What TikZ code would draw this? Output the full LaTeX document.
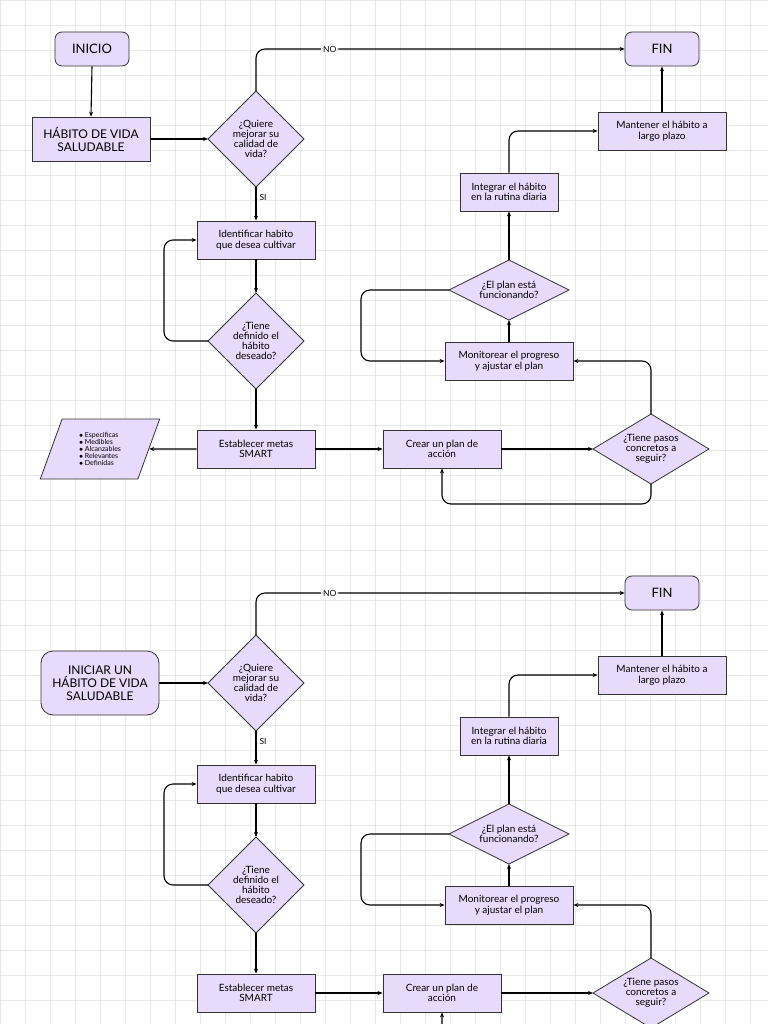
\documentclass[tikz,border=0pt]{standalone}
\usepackage{fontspec}
\setmainfont{Lato}
\usetikzlibrary{arrows.meta,shapes.geometric}
\definecolor{lav}{HTML}{E8DAFB}
\tikzset{
 box/.style={draw=black!80,fill=lav,line width=0.8pt,align=center,font=\fontsize{10}{10.5}\selectfont,inner sep=1pt},
 term/.style={box,rounded corners=7pt,font=\fontsize{13}{14}\selectfont},
 dia/.style={draw=black!80,fill=lav,line width=0.8pt},
 dtext/.style={align=center,font=\fontsize{10}{9.8}\selectfont,inner sep=0pt},
 arr/.style={line width=1.1pt,-{Stealth[length=5pt,width=4pt]},rounded corners=9pt},
 lbl/.style={fill=white,font=\fontsize{8.5}{8.5}\selectfont,inner sep=2pt}
}
\newcommand{\mydia}[5]{% name, x, y, halfw, halfh
 \draw[dia] (#2-#4,#3) -- (#2,#3-#5) -- (#2+#4,#3) -- (#2,#3+#5) -- cycle;
 \coordinate (#1l) at (#2-#4,#3); \coordinate (#1r) at (#2+#4,#3);
 \coordinate (#1t) at (#2,#3-#5); \coordinate (#1b) at (#2,#3+#5);}
\newcommand{\chart}[2]{% prefix, offset
 \node[term,minimum width=74pt,minimum height=34pt] (#1fin) at (662,49+#2) {FIN};
 \mydia{#1da}{256}{139+#2}{48}{48}
 \node[dtext] (#1qa) at (256,139+#2) {¿Quiere\\mejorar su\\calidad de\\vida?};
 \node[box,minimum width=118pt,minimum height=38pt] (#1id) at (256,240+#2) {Identificar habito\\que desea cultivar};
 \mydia{#1db}{256}{341+#2}{48}{48}
 \node[dtext] (#1qb) at (256,341+#2) {¿Tiene\\definido el\\hábito\\deseado?};
 \node[box,minimum width=118pt,minimum height=38pt] (#1es) at (256,449+#2) {Establecer metas\\SMART};
 \node[box,minimum width=118pt,minimum height=38pt] (#1cr) at (442,449+#2) {Crear un plan de\\acción};
 \mydia{#1dc}{651}{449+#2}{58}{35}
 \node[dtext] (#1qc) at (651,449+#2) {¿Tiene pasos\\concretos a\\seguir?};
 \node[box,minimum width=128pt,minimum height=38pt] (#1mo) at (509,361+#2) {Monitorear el progreso\\y ajustar el plan};
 \mydia{#1dd}{509}{290+#2}{60}{30}
 \node[dtext] (#1qd) at (509,290+#2) {¿El plan está\\funcionando?};
 \node[box,minimum width=98pt,minimum height=38pt] (#1in) at (509,192+#2) {Integrar el hábito\\en la rutina diaria};
 \node[box,minimum width=128pt,minimum height=38pt] (#1ma) at (662,131+#2) {Mantener el hábito a\\largo plazo};
 \draw[arr] (#1dat) |- node[lbl,pos=0.6]{NO} (#1fin.west);
 \draw[arr] (#1dab) -- node[lbl,right,pos=0.3,xshift=1pt]{SI} (#1id.north);
 \draw[arr] (#1id.south) -- (#1dbt);
 \draw[arr] (#1dbl) -| (164,290+#2) |- (#1id.west);
 \draw[arr] (#1dbb) -- (#1es.north);
 \draw[arr] (#1es.east) -- (#1cr.west);
 \draw[arr] (#1cr.east) -- (#1dcl);
 \draw[arr] (#1dcb) |- (540,504+#2) -| (#1cr.south);
 \draw[arr] (#1dct) |- (#1mo.east);
 \draw[arr] (#1mo.north) -- (#1ddb);
 \draw[arr] (#1ddl) -| (361,330+#2) |- (#1mo.west);
 \draw[arr] (#1ddt) -- (#1in.south);
 \draw[arr] (#1in.north) |- (#1ma.west);
 \draw[arr] (#1ma.north) -- (#1fin.south);
}
\begin{document}
\begin{tikzpicture}[x=1pt,y=-1pt]
\useasboundingbox (0,0) rectangle (768,1024);
\clip (0,0) rectangle (768,1024);
\fill[white] (0,0) rectangle (768,1024);
\foreach \g in {0,25,...,1025}{
  \draw[black!9,line width=0.6pt] (\g,0) -- (\g,1024);
  \draw[black!9,line width=0.6pt] (0,\g) -- (768,\g);}
% top chart
\node[term,minimum width=74pt,minimum height=34pt] (ini) at (92,49) {INICIO};
\node[box,minimum width=118pt,minimum height=44pt,font=\fontsize{12}{13}\selectfont] (hab) at (91,139) {HÁBITO DE VIDA\\SALUDABLE};
\chart{A}{0}
\draw[arr] (ini.south) -- (hab.north);
\draw[arr] (hab.east) -- (Adal);
\node[trapezium,trapezium left angle=70,trapezium right angle=110,draw=black!80,fill=lav,line width=0.8pt,minimum width=78pt,minimum height=60pt,inner sep=0pt,font=\fontsize{7}{7}\selectfont,align=left] (par) at (100,449) {$\bullet$\ Especificas\\$\bullet$\ Medibles\\$\bullet$\ Alcanzables\\$\bullet$\ Relevantes\\$\bullet$\ Definidas};
\draw[arr] (Aes.west) -- (par.east);
% bottom chart
\node[term,minimum width=118pt,minimum height=64pt,font=\fontsize{12}{13}\selectfont,rounded corners=12pt] (hab2) at (100,683) {INICIAR UN\\HÁBITO DE VIDA\\SALUDABLE};
\chart{B}{544}
\draw[arr] (hab2.east) -- (Bdal);
\end{tikzpicture}
\end{document}
